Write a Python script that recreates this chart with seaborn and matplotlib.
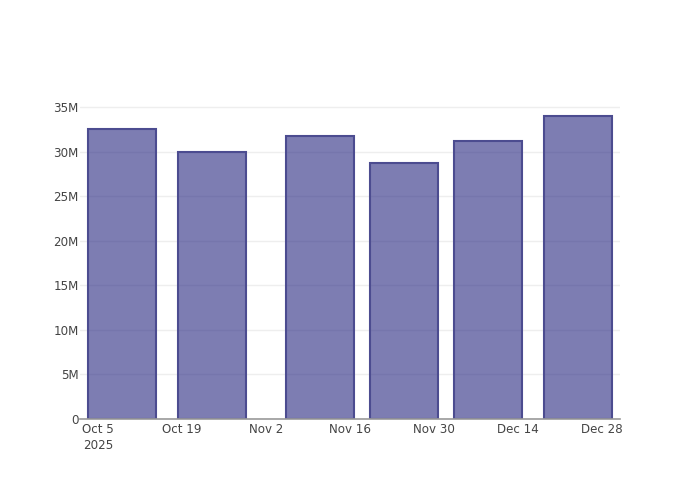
import pandas as pd
import matplotlib
matplotlib.use('Agg')
import matplotlib.pyplot as plt
import matplotlib.dates as mdates
import matplotlib.ticker as mticker
import seaborn as sns

# 数据
dates = ['2025-10-09', '2025-10-24', '2025-11-11', '2025-11-25', '2025-12-09', '2025-12-24']
values = [32.53e6, 29.95e6, 31.75e6, 28.72e6, 31.19e6, 33.99e6]
tick_dates = ['2025-10-05', '2025-10-19', '2025-11-02', '2025-11-16', '2025-11-30', '2025-12-14', '2025-12-28']
tick_labels = ['Oct 5\n2025', 'Oct 19', 'Nov 2', 'Nov 16', 'Nov 30', 'Dec 14', 'Dec 28']

sns.set_style('white')
plt.rcParams['font.family'] = ['DejaVu Sans']

df = pd.DataFrame({'date': mdates.date2num(pd.to_datetime(dates)), 'value': values})

fig = plt.figure(figsize=(7, 5), dpi=100)
ax = fig.add_axes([80 / 700, 81 / 500, 540 / 700, 320 / 500])

# 柱宽约11.3天，最小间隔14天
sns.barplot(data=df, x='date', y='value', native_scale=True, width=11.33 / 14,
            color='#262680', saturation=1, linewidth=1.5,
            ax=ax, zorder=2)
# 填充半透明，边框不透明
for p in ax.patches:
    p.set_alpha(None)
    p.set_facecolor((0.149, 0.149, 0.5, 0.6))
    p.set_edgecolor('#4c4c90')

ax.set_xlim(mdates.date2num(pd.Timestamp('2025-10-02')), mdates.date2num(pd.Timestamp('2025-12-31')))
ax.set_ylim(0, 35.9e6)
ax.set_xticks(mdates.date2num(pd.to_datetime(tick_dates)))
ax.set_xticklabels(tick_labels, ha='center', va='top', linespacing=1.3)

ax.yaxis.set_major_locator(mticker.MultipleLocator(5e6))
ax.yaxis.set_major_formatter(mticker.FuncFormatter(lambda v, _: '0' if v == 0 else f'{v / 1e6:.0f}M'))

ax.grid(axis='y', color='#eeeeee', linewidth=1, zorder=0)
ax.set_axisbelow(True)
for s in ['top', 'right', 'left']:
    ax.spines[s].set_visible(False)
ax.spines['bottom'].set_color('#999999')
ax.spines['bottom'].set_linewidth(1.2)
ax.tick_params(axis='both', length=0, labelsize=8.6, colors='#444444')
ax.tick_params(axis='x', pad=3)
ax.tick_params(axis='y', pad=1)
ax.set_xlabel('')
ax.set_ylabel('')

fig.savefig('out.png', dpi=100)
